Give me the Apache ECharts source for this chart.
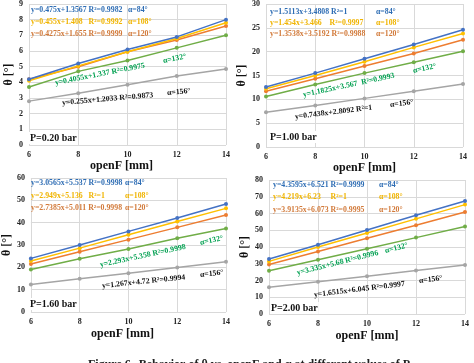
<!DOCTYPE html>
<html><head><meta charset="utf-8">
<script src="https://cdn.jsdelivr.net/npm/echarts@6/dist/echarts.min.js"></script>
<style>html,body{margin:0;padding:0;background:#fff}#c{width:474px;height:363px}</style>
</head><body><div id="c"></div>
<script>
const openF = [6, 8, 10, 12, 14];
const alphaLabels = ['α=84°', 'α=108°', 'α=120°', 'α=132°', 'α=156°'];
const pressures = ['P=0.20 bar', 'P=1.00 bar', 'P=1.60 bar', 'P=2.00 bar'];

// theta values per panel, one array per alpha (84,108,120,132,156)
const p020_a84  = [4.2, 5.2, 6.1, 6.9, 8.0];
const p020_a108 = [4.1, 5.05, 5.95, 6.8, 7.8];
const p020_a120 = [4.2, 5.0, 5.95, 6.7, 7.6];
const p020_a132 = [3.7, 4.7, 5.4, 6.2, 7.0];
const p020_a156 = [2.8, 3.3, 3.85, 4.4, 4.85];

const p100_a84  = [12.6, 15.5, 18.5, 21.5, 24.6];
const p100_a108 = [12.2, 15.0, 17.9, 20.9, 23.8];
const p100_a120 = [11.7, 14.3, 17.0, 19.6, 22.5];
const p100_a132 = [10.6, 13.1, 15.5, 17.8, 20.1];
const p100_a156 = [7.3, 8.7, 10.2, 11.7, 13.2];

const p160_a84  = [24.0, 30.0, 36.1, 42.1, 48.4];
const p160_a108 = [22.8, 28.6, 34.6, 40.5, 46.4];
const p160_a120 = [21.5, 27.0, 32.4, 37.9, 43.4];
const p160_a132 = [19.0, 23.8, 28.2, 33.0, 37.4];
const p160_a156 = [12.3, 14.9, 17.4, 19.9, 22.5];

const p200_a84  = [32.8, 41.3, 50.1, 58.9, 67.5];
const p200_a108 = [31.4, 40.0, 48.4, 56.8, 65.3];
const p200_a120 = [29.6, 37.3, 45.2, 53.0, 60.9];
const p200_a132 = [25.8, 32.4, 39.0, 45.6, 52.3];
const p200_a156 = [15.9, 19.3, 22.6, 25.9, 29.2];

const eq020 = ['y=0.475x+1.3567 R²=0.9982', 'y=0.455x+1.408   R²=0.9992', 'y=0.4275x+1.655 R²=0.9999', 'y=0.4055x+1.337 R²=0.9975', 'y=0.255x+1.2033 R²=0.9873'];
const eq100 = ['y=1.5113x+3.4808 R²=1', 'y=1.454x+3.466    R²=0.9997', 'y=1.3538x+3.5192 R²=0.9988', 'y=1.1825x+3.567  R²=0.9993', 'y=0.7438x+2.8092 R²=1'];
const eq160 = ['y=3.0565x+5.537 R²=0.9998', 'y=2.949x+5.136   R²=1', 'y=2.7385x+5.011 R²=0.9998', 'y=2.293x+5.358 R²=0.9998', 'y=1.267x+4.72 R²=0.9994'];
const eq200 = ['y=4.3595x+6.521 R²=0.9999', 'y=4.219x+6.23     R²=1', 'y=3.9135x+6.073 R²=0.9995', 'y=3.335x+5.68 R²=0.9996', 'y=1.6515x+6.045 R²=0.9997'];

const yMax = [9, 30, 60, 80];
const yStep = [1, 5, 10, 10];

const panels = [
  [p020_a84, p020_a108, p020_a120, p020_a132, p020_a156],
  [p100_a84, p100_a108, p100_a120, p100_a132, p100_a156],
  [p160_a84, p160_a108, p160_a120, p160_a132, p160_a156],
  [p200_a84, p200_a108, p200_a120, p200_a132, p200_a156]
];
const eqs = [eq020, eq100, eq160, eq200];

const lineColors = ['#4472C4', '#FFC000', '#ED7D31', '#70AD47', '#A5A5A5'];
const textColors = ['#2E6DB4', '#F0B400', '#D27A3A', '#00A050', '#111111'];
const FONT = '"Liberation Serif", "Times New Roman", serif';
const EQFONT = 'bold 7.8px ' + FONT;

const grids = [
  {left: 29, right: 248, top: 3, bottom: 218},
  {left: 266, right: 11, top: 4, bottom: 216},
  {left: 29, right: 248, top: 178, bottom: 51},
  {left: 269, right: 9, top: 180, bottom: 49}
];

const xAxes = [], yAxes = [], series = [];
grids.forEach((g, i) => {
  xAxes.push({
    gridIndex: i, type: 'value', min: 6, max: 14, interval: 2,
    name: 'openF [mm]', nameLocation: 'middle', nameGap: i < 2 ? 11 : 16,
    nameTextStyle: {fontFamily: FONT, fontWeight: 'bold', fontSize: 12, color: '#111',
      padding: i % 2 === 0 ? [0, 12, 0, 0] : [0, 0, 0, 0]},
    axisLine: {show: false}, axisTick: {show: false},
    axisLabel: {fontFamily: FONT, fontWeight: 'bold', fontSize: 8, color: '#222', margin: 6},
    splitLine: {show: true, lineStyle: {color: '#D9D9D9', width: 1}}
  });
  yAxes.push({
    gridIndex: i, type: 'value', min: 0, max: yMax[i], interval: yStep[i],
    name: 'θ [°]', nameLocation: 'middle', nameGap: i % 2 === 0 ? 14 : 17,
    nameTextStyle: {fontFamily: FONT, fontWeight: 'bold', fontSize: 12, color: '#111'},
    axisLine: {show: false}, axisTick: {show: false},
    axisLabel: {fontFamily: FONT, fontWeight: 'bold', fontSize: 8, color: '#222', margin: 6},
    splitLine: {show: true, lineStyle: {color: '#D9D9D9', width: 1}}
  });
  panels[i].forEach((vals, k) => {
    series.push({
      type: 'line', xAxisIndex: i, yAxisIndex: i, z: 10 - k,
      data: openF.map((x, j) => [x, vals[j]]),
      symbol: 'circle', symbolSize: 4, showSymbol: true,
      lineStyle: {color: lineColors[k], width: 1.5},
      itemStyle: {color: lineColors[k]},
      animation: false
    });
  });
});

// annotation placement (pixel anchors for text, not data marks)
// rot entries: [eqX, eqY, alphaX, alphaY, angleDeg]
const annot = [
  {rows: [[31, 10], [31, 22], [31, 34]], alphaX: 128,
   rot: [[55, 83, 163, 61, 11], [62, 103, 167, 93, 5]], p: [29, 138]},
  {rows: [[270, 12], [270, 23], [270, 34]], alphaX: 376,
   rot: [[303, 95, 413, 71, 12], [295, 117, 390, 105, 7]], p: [269, 137]},
  {rows: [[31, 183], [31, 196], [31, 208]], alphaX: 125,
   rot: [[100, 265, 200, 243, 12], [102, 286, 200, 275, 6]], p: [29, 304]},
  {rows: [[273, 185], [273, 197], [273, 210]], alphaX: 379,
   rot: [[297, 273, 385, 251, 14], [314, 295, 419, 281, 7]], p: [270, 308]}
];

const graphic = [];
annot.forEach((a, i) => {
  a.rows.forEach((r, k) => {
    graphic.push({type: 'text', x: r[0], y: r[1], z: 100,
      style: {text: eqs[i][k], fill: textColors[k], font: EQFONT, verticalAlign: 'middle', align: 'left'}});
    graphic.push({type: 'text', x: a.alphaX, y: r[1], z: 100,
      style: {text: alphaLabels[k], fill: textColors[k], font: EQFONT, verticalAlign: 'middle', align: 'left'}});
  });
  a.rot.forEach((r, m) => {
    const k = 3 + m;
    const rad = r[4] * Math.PI / 180;
    graphic.push({type: 'text', x: r[0], y: r[1], rotation: rad, z: 100,
      style: {text: eqs[i][k], fill: textColors[k], font: EQFONT, verticalAlign: 'middle', align: 'left'}});
    graphic.push({type: 'text', x: r[2], y: r[3], rotation: rad, z: 100,
      style: {text: alphaLabels[k], fill: textColors[k], font: EQFONT, verticalAlign: 'middle', align: 'left'}});
  });
  graphic.push({type: 'text', x: a.p[0], y: a.p[1], z: 100,
    style: {text: pressures[i], fill: '#111', font: 'bold 10px ' + FONT, verticalAlign: 'middle', align: 'left',
      backgroundColor: '#fff', padding: [1, 1]}});
});

const chart = echarts.init(document.getElementById('c'), null, {renderer: 'canvas'});
chart.setOption({
  animation: false,
  backgroundColor: '#fff',
  title: {
    text: '{b|Figure 6.} {n|Behavior of θ vs. openF and α at different values of P.}',
    left: 245, textAlign: 'center', top: 351,
    textStyle: {rich: {
      b: {fontFamily: FONT, fontWeight: 'bold', fontSize: 12, color: '#222'},
      n: {fontFamily: FONT, fontSize: 12, color: '#222'}
    }}
  },
  grid: grids,
  xAxis: xAxes,
  yAxis: yAxes,
  series: series,
  graphic: graphic
});
</script></body></html>
